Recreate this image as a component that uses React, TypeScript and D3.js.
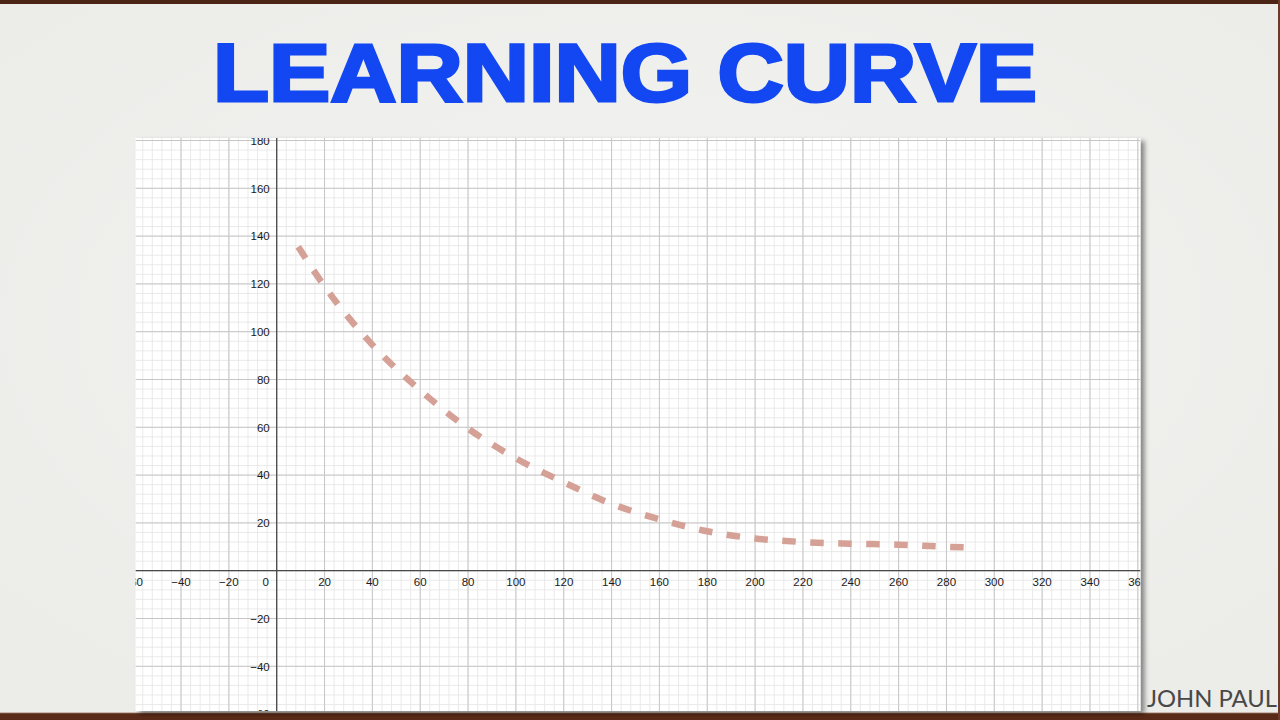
import { curveMonotoneX, line, range, scaleLinear, select } from "d3";
import React, { useEffect, useRef } from "react";

// values
const learnX = [9, 20, 40, 60, 80, 100, 120, 140, 160, 180, 200, 220, 240, 260, 280, 290];
const learnY = [135.5, 119, 94.5, 75.5, 59.5, 47, 37, 28, 21.5, 16.5, 13.5, 12, 11.3, 10.9, 10, 9.7];
const xTicks = [-60, -40, -20, 0, 20, 40, 60, 80, 100, 120, 140, 160, 180, 200, 220, 240, 260, 280, 300, 320, 340, 360];
const yTicks = [-60, -40, -20, 0, 20, 40, 60, 80, 100, 120, 140, 160, 180];
const title = "LEARNING CURVE";
const author = "JOHN PAUL";

const W = 1280;
const H = 720;
const box = { left: 135.5, right: 1140.5, top: 138, bottom: 711 };

const fmt = (v: number) => (v < 0 ? "\u2212" + Math.abs(v) : String(v));

const App: React.FC = () => {
    const svgRef = useRef<SVGSVGElement>(null);

    useEffect(() => {
        const svg = select(svgRef.current);
        svg.selectAll("*").remove();

        // x=0 sits at 276.7px, 20 units ~ 47.84px
        const xScale = scaleLinear()
            .domain([(box.left - 276.7) / 2.392, (box.right - 276.7) / 2.392])
            .range([box.left, box.right]);
        const yScale = scaleLinear()
            .domain([(570.7 - box.bottom) / 2.39, (570.7 - box.top) / 2.39])
            .range([box.bottom, box.top]);

        const defs = svg.append("defs");
        defs.append("clipPath")
            .attr("id", "plotClip")
            .append("rect")
            .attr("x", box.left)
            .attr("y", box.top)
            .attr("width", box.right - box.left)
            .attr("height", box.bottom - box.top);
        defs.append("filter")
            .attr("id", "shadow")
            .attr("x", "-5%")
            .attr("y", "-5%")
            .attr("width", "110%")
            .attr("height", "110%")
            .append("feDropShadow")
            .attr("dx", 4)
            .attr("dy", 3)
            .attr("stdDeviation", 2.5)
            .attr("flood-color", "#000")
            .attr("flood-opacity", 0.45);
        const bg = defs.append("radialGradient").attr("id", "paper").attr("cx", "50%").attr("cy", "45%").attr("r", "75%");
        bg.append("stop").attr("offset", "0%").attr("stop-color", "#f3f3f1");
        bg.append("stop").attr("offset", "100%").attr("stop-color", "#ebebe8");

        // page background + brown frame
        svg.append("rect").attr("width", W).attr("height", H).attr("fill", "url(#paper)");
        svg.append("rect").attr("x", 0).attr("y", 0).attr("width", W).attr("height", 4).attr("fill", "#4b2416");
        svg.append("rect").attr("x", 0).attr("y", 713).attr("width", W).attr("height", 7).attr("fill", "#5a2a18");
        svg.append("rect").attr("x", 0).attr("y", 712).attr("width", W).attr("height", 1.2).attr("fill", "#c9b8ae");
        svg.append("rect").attr("x", 1278).attr("y", 0).attr("width", 2).attr("height", H).attr("fill", "#6b3a28");

        svg.append("text")
            .attr("x", 625)
            .attr("y", 100.5)
            .attr("text-anchor", "middle")
            .attr("font-family", "Liberation Sans, Arial, sans-serif")
            .attr("font-weight", 700)
            .attr("font-size", 81)
            .attr("textLength", 824)
            .attr("lengthAdjust", "spacingAndGlyphs")
            .attr("fill", "#1247f2")
            .attr("stroke", "#1247f2")
            .attr("stroke-width", 3)
            .attr("stroke-linejoin", "miter")
            .text(title);

        // chart sheet
        svg.append("rect")
            .attr("x", box.left)
            .attr("y", box.top)
            .attr("width", box.right - box.left)
            .attr("height", box.bottom - box.top)
            .attr("fill", "#ffffff")
            .attr("filter", "url(#shadow)");

        const plot = svg.append("g").attr("clip-path", "url(#plotClip)");

        // minor grid every 4 units
        const minor = plot.append("g").attr("stroke", "#e4e4e4").attr("stroke-width", 0.8);
        minor.selectAll(".mx")
            .data(range(-60, 364, 4))
            .enter()
            .append("line")
            .attr("x1", d => xScale(d))
            .attr("x2", d => xScale(d))
            .attr("y1", box.top)
            .attr("y2", box.bottom);
        minor.selectAll(".my")
            .data(range(-60, 184, 4))
            .enter()
            .append("line")
            .attr("y1", d => yScale(d))
            .attr("y2", d => yScale(d))
            .attr("x1", box.left)
            .attr("x2", box.right);

        // major grid
        const major = plot.append("g").attr("stroke", "#c6c6c6").attr("stroke-width", 1);
        major.selectAll(".gx")
            .data(xTicks)
            .enter()
            .append("line")
            .attr("x1", d => xScale(d))
            .attr("x2", d => xScale(d))
            .attr("y1", box.top)
            .attr("y2", box.bottom);
        major.selectAll(".gy")
            .data(yTicks)
            .enter()
            .append("line")
            .attr("y1", d => yScale(d))
            .attr("y2", d => yScale(d))
            .attr("x1", box.left)
            .attr("x2", box.right);

        // axes
        plot.append("line")
            .attr("x1", box.left)
            .attr("x2", box.right)
            .attr("y1", yScale(0))
            .attr("y2", yScale(0))
            .attr("stroke", "#4a4a4a")
            .attr("stroke-width", 1.3);
        plot.append("line")
            .attr("x1", xScale(0))
            .attr("x2", xScale(0))
            .attr("y1", box.top)
            .attr("y2", box.bottom)
            .attr("stroke", "#4a4a4a")
            .attr("stroke-width", 1.3);

        const labels = plot.append("g")
            .attr("font-family", "Liberation Sans, Arial, sans-serif")
            .attr("font-size", 11.5)
            .attr("fill", "#1a1a1a");
        labels.selectAll(".lx")
            .data(xTicks)
            .enter()
            .append("text")
            .attr("x", d => (d === 0 ? xScale(0) - 11 : xScale(d)))
            .attr("y", yScale(0) + 15.5)
            .attr("text-anchor", "middle")
            .text(d => fmt(d));
        labels.selectAll(".ly")
            .data(yTicks.filter(d => d !== 0))
            .enter()
            .append("text")
            .attr("x", xScale(0) - 7)
            .attr("y", d => yScale(d) + 4.2)
            .attr("text-anchor", "end")
            .text(d => fmt(d));

        // learning curve, dashed
        const pts: [number, number][] = learnX.map((x, i) => [x, learnY[i]]);
        const curve = line<[number, number]>()
            .x(d => xScale(d[0]))
            .y(d => yScale(d[1]))
            .curve(curveMonotoneX);
        plot.append("path")
            .datum(pts)
            .attr("fill", "none")
            .attr("stroke", "#d5a095")
            .attr("stroke-width", 6.5)
            .attr("stroke-dasharray", "13.5 14.5")
            .attr("d", curve);

        svg.append("text")
            .attr("x", 1147)
            .attr("y", 707)
            .attr("font-family", "Lato, Open Sans, sans-serif")
            .attr("font-weight", 400)
            .attr("font-size", 24)
            .attr("textLength", 130)
            .attr("lengthAdjust", "spacingAndGlyphs")
            .attr("fill", "#484848")
            .text(author);
    }, []);

    return (
        <div style={{ position: "absolute", left: 0, top: 0, width: W, height: H }}>
            <svg ref={svgRef} width={W} height={H}></svg>
        </div>
    );
};

export default App;
